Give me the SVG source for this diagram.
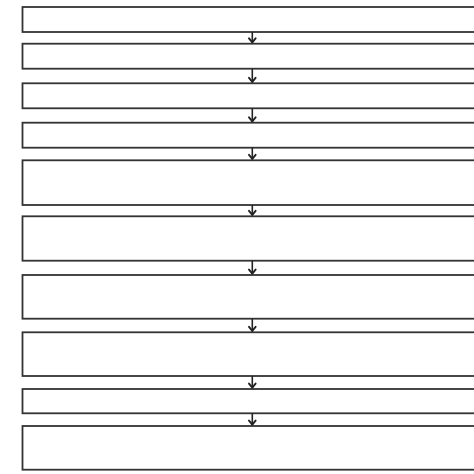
<svg xmlns="http://www.w3.org/2000/svg" width="474" height="474" viewBox="0 0 474 474">
<style>
.box{fill:#fff;stroke:#333;stroke-width:1.8}
.con{stroke:#222;stroke-width:1.6;fill:none}
.head{stroke:#222;stroke-width:1.9;fill:none;stroke-linecap:round;stroke-linejoin:round}
</style>
<rect width="474" height="474" fill="#fff"/>
<g id="n1"><rect class="box" x="22.5" y="7" width="460" height="25"/></g>
<g id="n2"><rect class="box" x="22.5" y="43.7" width="460" height="25"/></g>
<g id="n3"><rect class="box" x="22.5" y="83.3" width="460" height="25"/></g>
<g id="n4"><rect class="box" x="22.5" y="122.7" width="460" height="25"/></g>
<g id="n5"><rect class="box" x="22.5" y="160.3" width="460" height="44.7"/></g>
<g id="n6"><rect class="box" x="22.5" y="216.3" width="460" height="44.4"/></g>
<g id="n7"><rect class="box" x="22.5" y="275" width="460" height="43.7"/></g>
<g id="n8"><rect class="box" x="22.5" y="332.3" width="460" height="43.7"/></g>
<g id="n9"><rect class="box" x="22.5" y="389" width="460" height="24.3"/></g>
<g id="n10"><rect class="box" x="22.5" y="426" width="460" height="43.7"/></g>
<g id="connectors">
<path class="con" d="M252.3 32V43"/><path class="head" d="M249 38.3L252.3 42.3L255.6 38.3"/>
<path class="con" d="M252.3 68.7V82.6"/><path class="head" d="M249 77.8L252.3 81.8L255.6 77.8"/>
<path class="con" d="M252.3 108.3V122"/><path class="head" d="M249 117.3L252.3 121.3L255.6 117.3"/>
<path class="con" d="M252.3 147.7V159.6"/><path class="head" d="M249 154.8L252.3 158.8L255.6 154.8"/>
<path class="con" d="M252.3 205V215.6"/><path class="head" d="M249 210.8L252.3 214.8L255.6 210.8"/>
<path class="con" d="M252.3 260.7V274.3"/><path class="head" d="M249 269.6L252.3 273.6L255.6 269.6"/>
<path class="con" d="M252.3 318.7V331.6"/><path class="head" d="M249 326.8L252.3 330.8L255.6 326.8"/>
<path class="con" d="M252.3 376V388.3"/><path class="head" d="M249 383.6L252.3 387.6L255.6 383.6"/>
<path class="con" d="M252.3 413.3V425.3"/><path class="head" d="M249 420.6L252.3 424.6L255.6 420.6"/>
</g>
</svg>
